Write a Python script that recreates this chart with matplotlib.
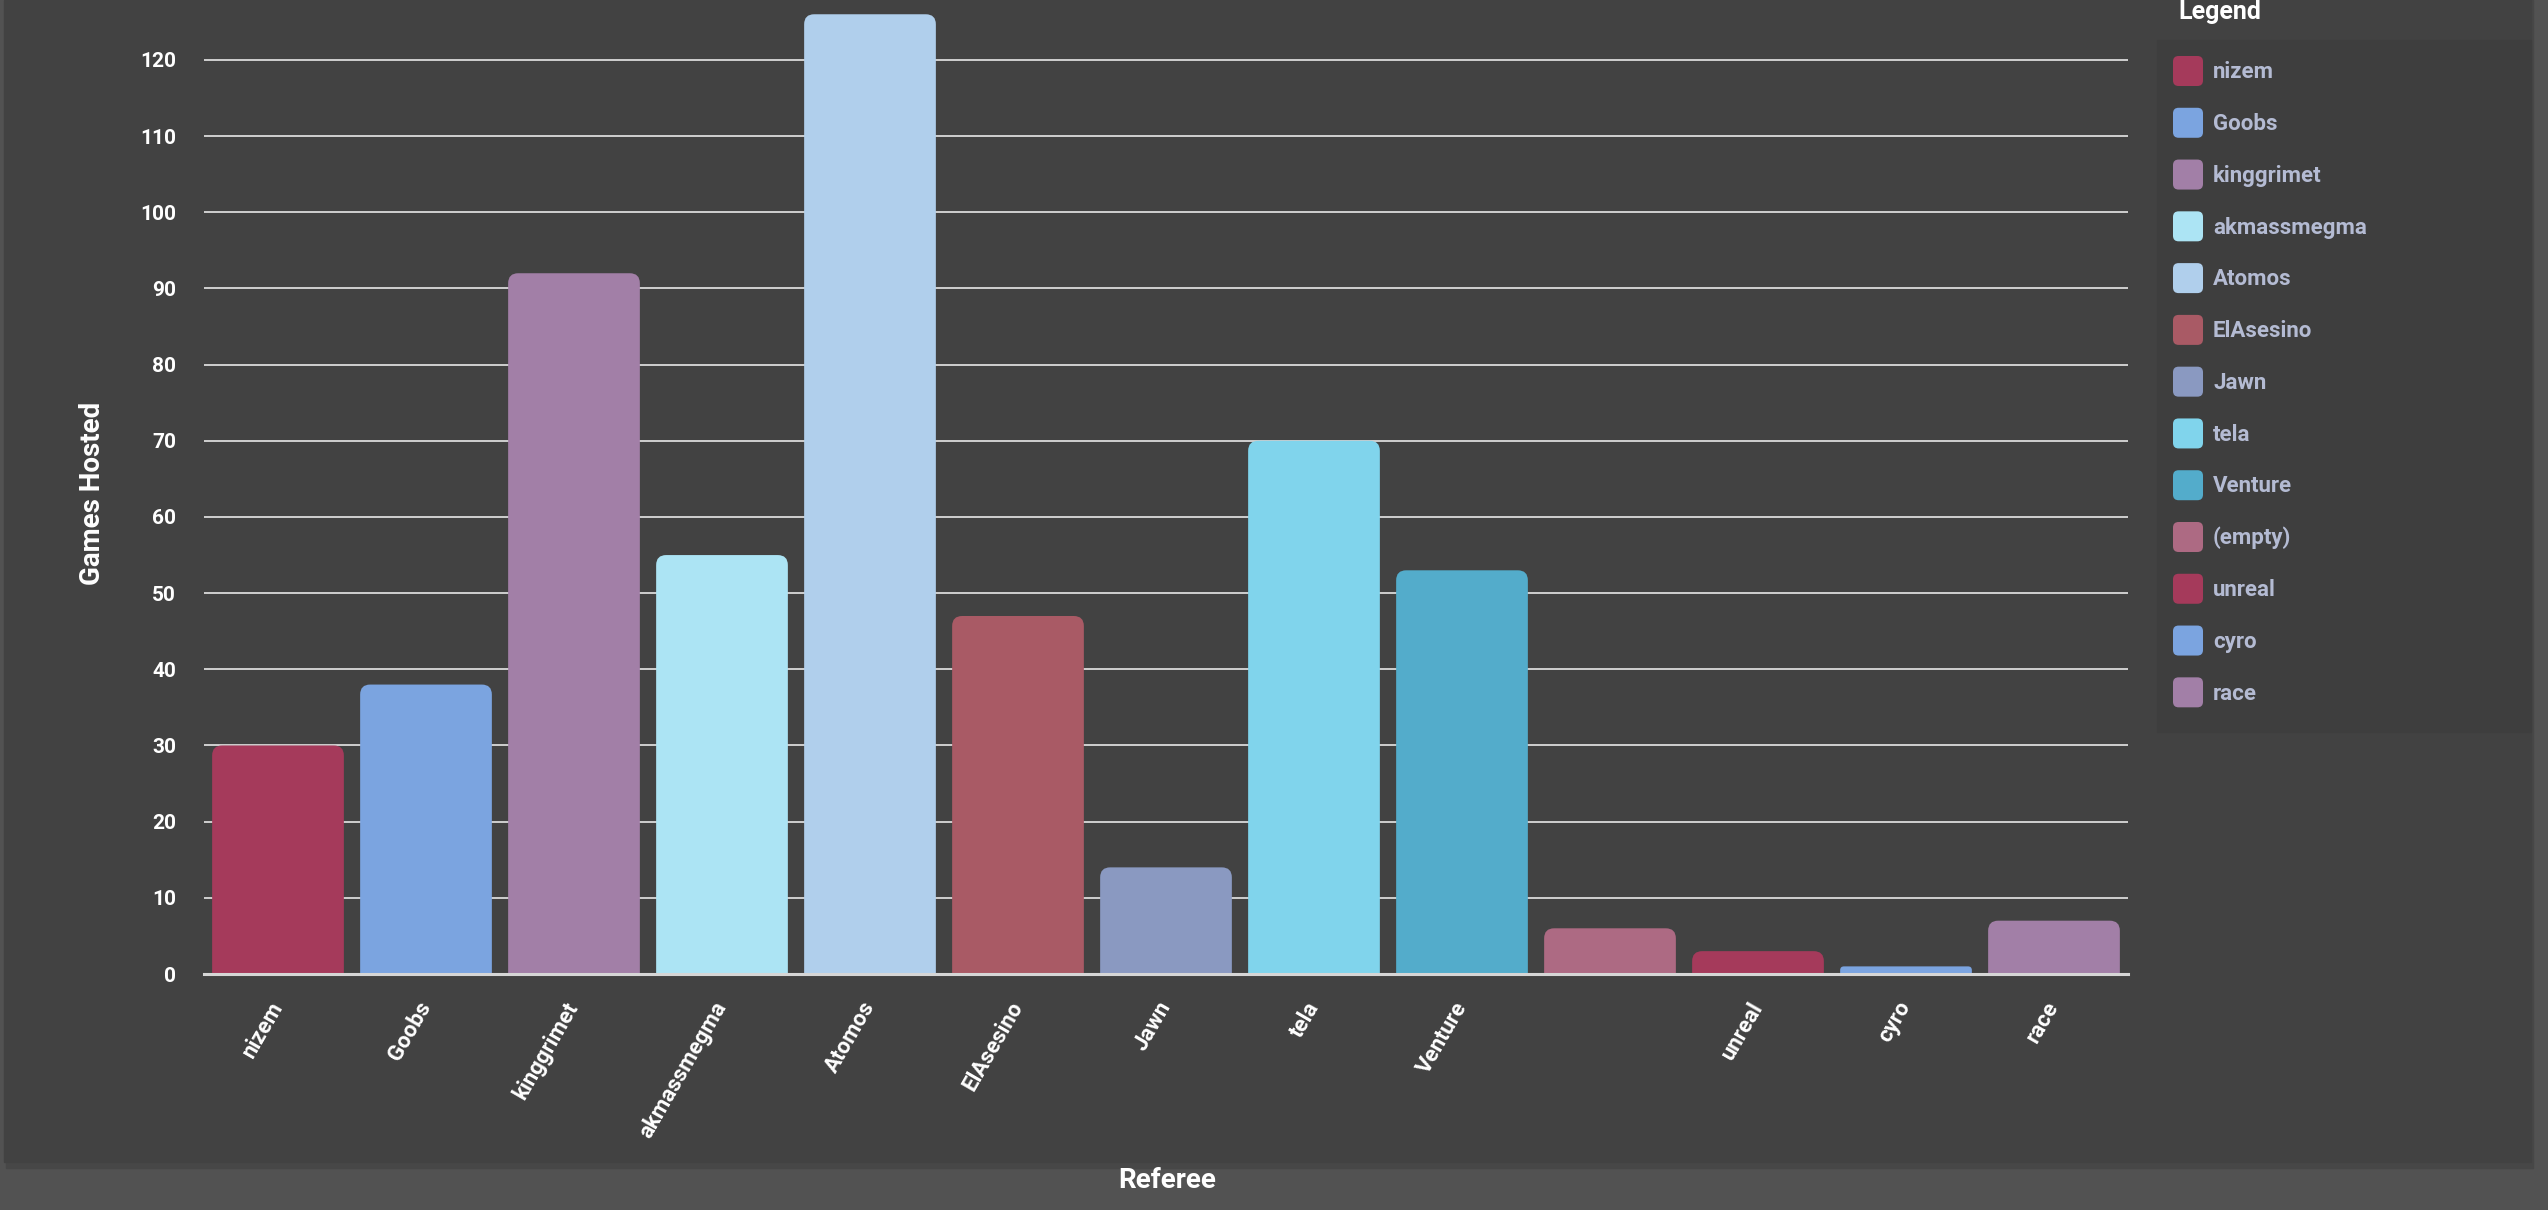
import matplotlib
matplotlib.use("Agg")
import matplotlib.pyplot as plt
from matplotlib.patches import Rectangle, FancyBboxPatch, Patch
from matplotlib.legend_handler import HandlerPatch

plt.rcParams['font.family'] = ['Roboto', 'DejaVu Sans']
plt.rcParams['font.weight'] = 'bold'

# ---- data ----
categories = ["nizem", "Goobs", "kinggrimet", "akmassmegma", "Atomos", "ElAsesino",
              "Jawn", "tela", "Venture", "", "unreal", "cyro", "race"]
games_hosted = [30, 38, 92, 55, 126, 47, 14, 70, 53, 6, 3, 1, 7]
legend_labels = [c if c else "(empty)" for c in categories]
palette = ["#A53A5B", "#7BA4E0", "#A27FA7", "#ACE4F4", "#B0CFEC",
           "#A95A65", "#8A99C1", "#80D4EC", "#53ACCB", "#AD6A83"]
colors = [palette[i % len(palette)] for i in range(len(categories))]
y_ticks = list(range(0, 121, 10))
y_max = 126
x_title = "Referee"
y_title = "Games Hosted"
legend_title = "Legend"

# ---- figure ----
W, H = 2548, 1210
fig = plt.figure(figsize=(W / 100, H / 100), dpi=100)
fig.patch.set_facecolor("#525252")

def fx(px):
    return px / W

def fy(py):
    return 1 - py / H

# card shadow + card
fig.add_artist(Rectangle((fx(6), fy(1168)), fx(2531 - 4), 1168 / H,
                         transform=fig.transFigure, color="#474747", zorder=0))
fig.add_artist(Rectangle((fx(4), fy(1162)), fx(2531 - 4), 1162 / H,
                         transform=fig.transFigure, color="#424242", zorder=0))
# legend panel
fig.add_artist(Rectangle((fx(2157), fy(732)), fx(2531 - 2157), (732 - 40) / H,
                         transform=fig.transFigure, color="#3e3e3e", zorder=0))

ax_left, ax_right, ax_bottom, ax_top = 204, 2128, 974, 974 - y_max * 7.617
ax = fig.add_axes([fx(ax_left), fy(ax_bottom), fx(ax_right - ax_left), (ax_bottom - ax_top) / H])
ax.set_facecolor("none")

x = list(range(len(categories)))
bar_width = 0.89
bars = ax.bar(x, games_hosted, width=bar_width, color=colors)
ax.set_xlim(-0.5, len(categories) - 0.5)
ax.set_ylim(0, y_max)

# replace bars with rounded-top patches
px_per_x = (ax_right - ax_left) / len(categories)
px_per_y = (ax_bottom - ax_top) / y_max
radius_px = 10
for rect in bars:
    bx, bw, bh = rect.get_x(), rect.get_width(), rect.get_height()
    r_px = min(radius_px, bh * px_per_y / 2)
    rx = r_px / px_per_x
    ry = r_px / px_per_y
    rect.set_visible(False)
    if rx <= 0:
        continue
    p = FancyBboxPatch((bx, -ry), bw, bh + ry,
                       boxstyle=f"round,pad=0,rounding_size={rx}",
                       mutation_aspect=ry / rx,
                       facecolor=rect.get_facecolor(), edgecolor="none", zorder=2)
    ax.add_patch(p)

# grid & axes styling
ax.set_yticks(y_ticks)
ax.yaxis.grid(True, color="#cfcfcf", linewidth=1.4, zorder=0)
ax.set_axisbelow(True)
for s in ["top", "right", "left"]:
    ax.spines[s].set_visible(False)
ax.spines["bottom"].set_color("#d6d6d6")
ax.spines["bottom"].set_linewidth(2.2)
ax.spines["bottom"].set_zorder(5)
ax.tick_params(axis="y", length=0, pad=20, labelsize=15, labelcolor="white")
ax.tick_params(axis="x", length=0, pad=21, labelsize=16, labelcolor="white")
ax.set_xticks(x)
ax.set_xticklabels(categories, rotation=60, ha="right", va="center",
                   rotation_mode="anchor")
for t in ax.get_yticklabels() + ax.get_xticklabels():
    t.set_fontweight("bold")

fig.text(fx(92), fy(493), y_title, rotation=90, ha="center", va="center",
         color="white", fontsize=20, fontweight="bold")
fig.text(fx(1167), fy(1181), x_title, ha="center", va="center",
         color="white", fontsize=20, fontweight="bold")
fig.text(fx(2178), fy(12), legend_title, ha="left", va="center",
         color="white", fontsize=18, fontweight="bold")

# legend
def round_patch(legend, orig_handle, xdescent, ydescent, width, height, fontsize):
    return FancyBboxPatch((-xdescent, -ydescent), width, height,
                          boxstyle="round,pad=0,rounding_size=4")

handles = [Patch(facecolor=c, edgecolor="none") for c in colors]
fig.legend(handles, legend_labels, loc="upper left",
           bbox_to_anchor=(fx(2157), fy(40)), bbox_transform=fig.transFigure,
           frameon=False, prop={"family": "Roboto", "weight": "bold", "size": 16},
           labelcolor="#b4bbd3", handlelength=1.35, handleheight=1.70,
           handletextpad=0.45, labelspacing=0.98, borderpad=0.72, borderaxespad=0,
           handler_map={Patch: HandlerPatch(patch_func=round_patch)})

fig.savefig("out.png", dpi=100, facecolor=fig.get_facecolor())
